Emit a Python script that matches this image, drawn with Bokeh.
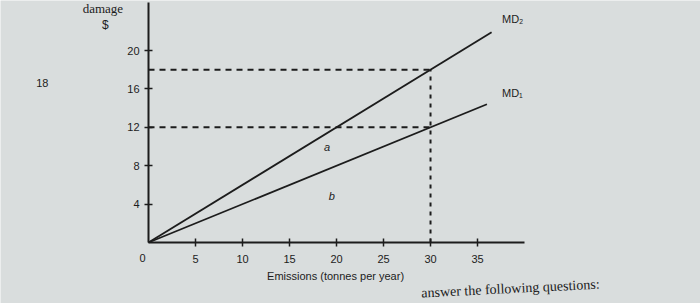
from bokeh.plotting import figure
from bokeh.models import Range1d, Label, FixedTicker
from bokeh.embed import file_html
from bokeh.resources import INLINE

# data
md1_x = [0, 36.0]
md1_y = [0, 14.4]
md2_x = [0, 36.5]
md2_y = [0, 21.9]
x_ticks = [5, 10, 15, 20, 25, 30, 35]
y_ticks = [4, 8, 12, 16, 20]
q_star = 30
md1_at_q = 12
md2_at_q = 18

INK = "#1c1c1c"
BG = "#d9dddd"

p = figure(width=700, height=303, output_backend="svg", toolbar_location=None,
           x_range=Range1d(-15.745, 58.72), y_range=Range1d(-6.354, 25.21),
           min_border=0, min_border_left=0, min_border_right=0,
           min_border_top=0, min_border_bottom=0)
p.background_fill_color = BG
p.border_fill_color = BG
p.outline_line_color = None
p.grid.visible = False

for ax in (p.xaxis[0], p.yaxis[0]):
    ax.fixed_location = 0
    ax.axis_line_width = 2
    ax.axis_line_color = INK
    ax.major_tick_line_color = INK
    ax.major_tick_line_width = 1.5
    ax.major_tick_in = 4
    ax.major_tick_out = 4
    ax.minor_tick_line_color = None
    ax.major_label_text_font = "Liberation Sans"
    ax.major_label_text_font_size = "11px"
    ax.major_label_text_color = INK
p.xaxis[0].bounds = (0, 40)
p.yaxis[0].bounds = (0, 25)
p.xaxis[0].ticker = FixedTicker(ticks=x_ticks)
p.yaxis[0].ticker = FixedTicker(ticks=y_ticks)
p.xaxis[0].major_label_standoff = 8
p.yaxis[0].major_label_standoff = 5

# MD lines
p.line(md2_x, md2_y, line_color=INK, line_width=1.8)
p.line(md1_x, md1_y, line_color=INK, line_width=1.8)

# dashed guides
p.line([0, q_star], [md2_at_q, md2_at_q], line_color=INK, line_width=2, line_dash="6 5")
p.line([0, q_star], [md1_at_q, md1_at_q], line_color=INK, line_width=2, line_dash="6 5")
p.line([q_star, q_star], [0, md2_at_q], line_color=INK, line_width=2, line_dash="4 5")

def lab(x, y, t, size="11px", font="Liberation Sans", style="normal", align="left", base="middle", angle=0):
    p.add_layout(Label(x=x, y=y, text=t, text_font=font, text_font_size=size,
                       text_color=INK, text_font_style=style, text_align=align,
                       text_baseline=base, angle=angle))

lab(37.6, 23.3, "MD₂")
lab(37.6, 15.6, "MD₁")
lab(19.0, 10.0, "a", style="italic", align="center")
lab(19.5, 4.8, "b", style="italic", align="center")
lab(-0.3, -1.6, "0", align="right")
lab(-4.6, 22.7, "$", size="12px", align="center")
lab(19.9, -3.5, "Emissions (tonnes per year)", align="center")
lab(-11.3, 16.6, "18", align="center")
lab(-7.0, 25.2, "damage", size="13px", font="Liberation Serif", base="top")
lab(38.5, -4.8, "answer the following questions:", size="14px", font="Liberation Serif",
    align="center", angle=0.05)

open("out.html", "w").write(file_html(p, INLINE))
